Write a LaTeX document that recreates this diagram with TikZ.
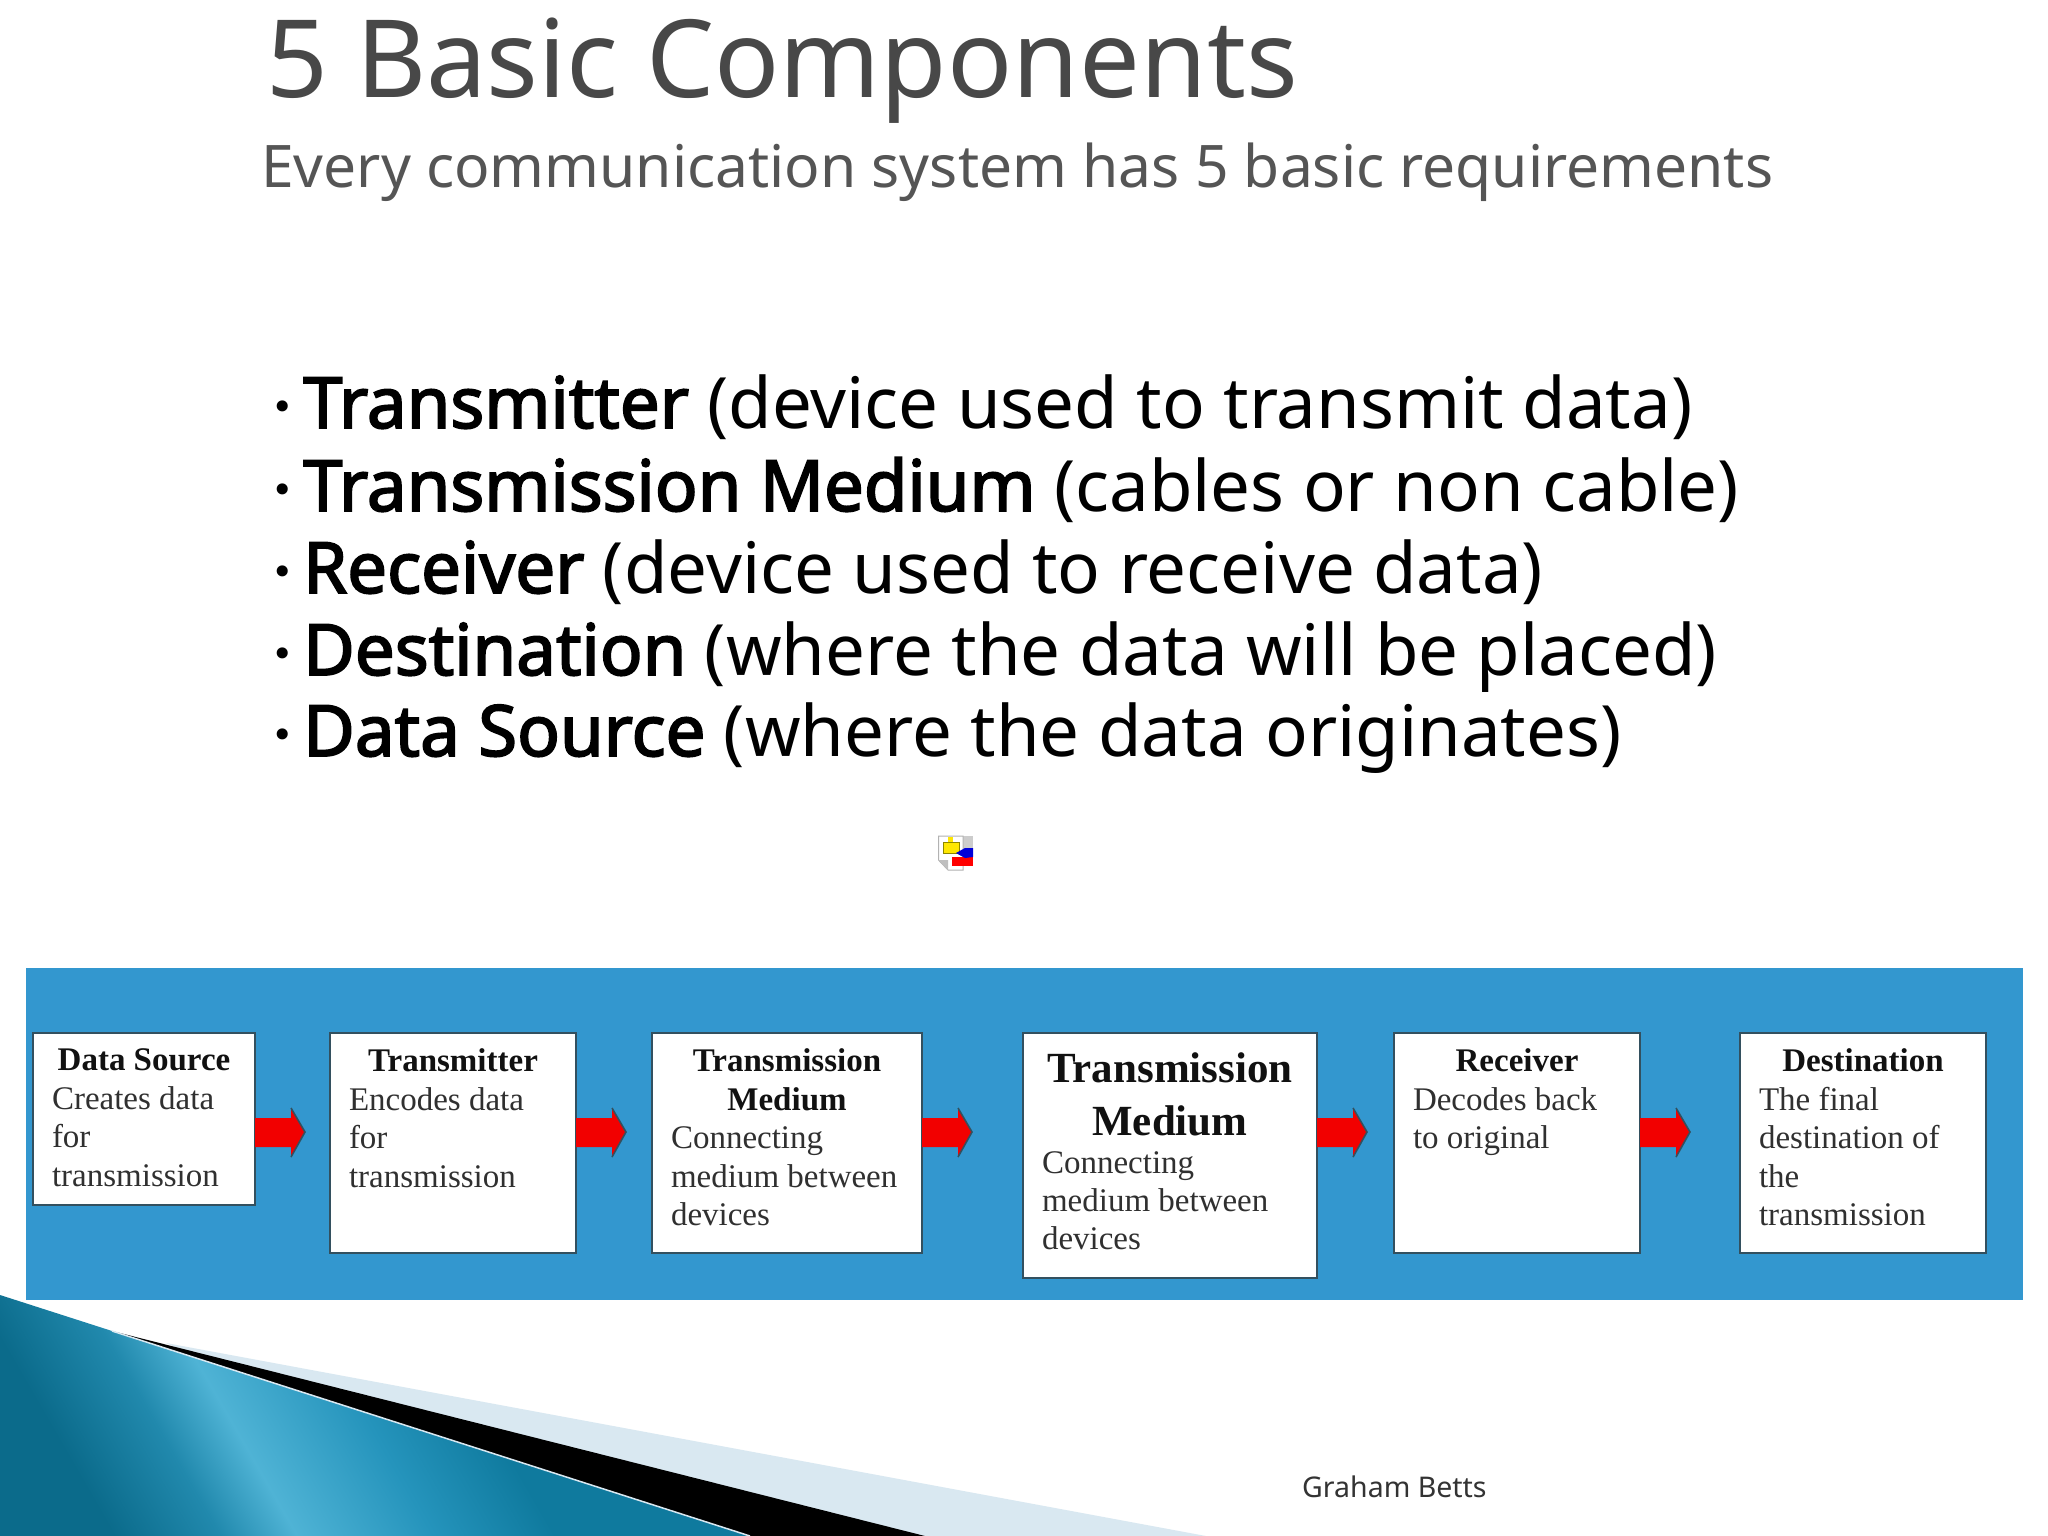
\documentclass[tikz,border=0pt]{standalone}
\usepackage{fontspec}
\setmainfont{Noto Sans}[AutoFakeBold=2.5]
\newfontfamily\boxfont{Liberation Serif}
\newfontfamily\dotfont{DejaVu Sans}
\usetikzlibrary{calc}
\definecolor{bandblue}{HTML}{3397CF}
\definecolor{boxedge}{HTML}{33505F}
\definecolor{titlegray}{HTML}{484848}
\definecolor{subgray}{HTML}{555555}
\definecolor{paleband}{HTML}{D9E8F1}
\definecolor{boxbody}{HTML}{303030}
\definecolor{boxhead}{HTML}{111111}
\definecolor{tealA}{HTML}{0B6B8B}
\definecolor{tealB}{HTML}{2189AD}
\definecolor{tealC}{HTML}{4FB3D5}
\definecolor{tealD}{HTML}{2594BC}
\definecolor{tealE}{HTML}{0F7A9E}
\pgfdeclarehorizontalshading{cornerteal}{100bp}{
  color(0bp)=(tealA);color(46.5bp)=(tealA);color(50bp)=(tealB);color(52.5bp)=(tealC);color(57bp)=(tealD);color(61bp)=(tealE);color(100bp)=(tealE)}
\tikzset{
  x=1pt,y=-1pt,
  stepbox/.style={fill=white,draw=boxedge,line width=2.6pt,anchor=north west,inner sep=0pt,outer sep=0pt},
  bodyline/.style={anchor=base west,inner sep=0pt,font=\fontsize{70.8}{70.8}\selectfont},
}
\newcommand{\bul}{\makebox[32pt][l]{\raisebox{8pt}{\dotfont\fontsize{38}{38}\selectfont •}}}
\newcommand{\boxtext}[3]{\parbox[c][#2pt][t]{#1pt}{\boxfont\fontsize{33}{38.5}\selectfont\color{boxbody}\vspace*{16pt}#3}}
\newcommand{\hd}[1]{\makebox[\linewidth]{\textcolor{boxhead}{\bfseries #1}}\par}
% block arrow growing out of the east side of a named box
\newcommand{\blockarrow}[1]{
  \fill[red!95!black] ($(#1.north east)+(0,85)$) -- ++(36,0) -- ++(0,-10) -- ++(14,24) -- ++(-14,25) -- ++(0,-10) -- ++(-36,0) -- cycle;
  \draw[boxedge,line width=1.6pt] ($(#1.north east)+(36,75)$) -- ++(14,24) -- ++(-14,25);
}
\begin{document}
\begin{tikzpicture}
\useasboundingbox (0,0) rectangle (2048,1536);
\fill[white] (0,0) rectangle (2048,1536);
% corner wedge
\fill[paleband] (166,1343) -- (1206,1536) -- (600,1536) -- cycle;
\fill[black] (112,1331) -- (925,1536) -- (750,1536) -- cycle;
\begin{scope}
  \clip (0,1295) -- (750,1536) -- (0,1536) -- cycle;
  \shade[shading=cornerteal,shading angle=30] (-500,900) rectangle (900,2100);
\end{scope}
\draw[paleband,line width=1.5pt] (112,1331) -- (750,1536);
% title
\node[anchor=base west,inner sep=0pt,text=titlegray,font=\fontsize{108}{108}\selectfont] (title) at (266,98) {5 Basic Components};
\node[anchor=base west,inner sep=0pt,text=subgray,font=\fontsize{58.7}{58.7}\selectfont] (subtitle) at (261,187) {Every communication system has 5 basic requirements};
% bullets
\node[bodyline] (b1) at (271,428) {\bul\textbf{Transmitter} (device used to transmit data)};
\node[bodyline] (b2) at (271,511) {\bul\textbf{Transmission Medium} (cables or non cable)};
\node[bodyline] (b3) at (271,593) {\bul\textbf{Receiver} (device used to receive data)};
\node[bodyline] (b4) at (271,675) {\bul\textbf{Destination} (where the data will be placed)};
\node[bodyline] (b5) at (271,756) {\bul\textbf{Data Source} (where the data originates)};
% broken object icon
\fill[gray!40] (963,836) rectangle (973,849);
\filldraw[fill=white,draw=gray!60,line width=1pt] (938.5,836) -- (963,836) -- (963,870) -- (948,870) -- (938.5,860) -- cycle;
\fill[gray!50] (938.5,860) -- (948,860) -- (948,870) -- cycle;
\filldraw[fill=yellow!90!orange,draw=olive,line width=.8pt] (943,842) rectangle (959,853);
\fill[yellow!90!orange] (948,837) rectangle (953,842);
\fill[red] (952,857) rectangle (973,866);
\fill[blue!85!black] (956,853) -- (965,848) -- (973,848) -- (973,857) -- (965,858) -- cycle;
% band
\fill[bandblue] (25.5,968) rectangle (2023,1300);
% boxes
\node[stepbox,minimum width=222pt,minimum height=172pt] (src) at (33,1033) {\boxtext{184}{172}{\hd{Data Source}Creates data\\for\\transmission}};
\node[stepbox,minimum width=246pt,minimum height=220pt] (tx) at (330,1033) {\boxtext{208}{220}{\hd{Transmitter}Encodes data\\for\\transmission}};
\node[stepbox,minimum width=270pt,minimum height=220pt] (med) at (652,1033) {\boxtext{232}{220}{\hd{Transmission}\hd{Medium}Connecting\\medium between\\devices}};
\node[stepbox,minimum width=294pt,minimum height=245pt] (med2) at (1023,1033) {\parbox[c][245pt][t]{256pt}{\boxfont\vspace*{20pt}\fontsize{43}{53}\selectfont\hd{Transmission}\hd{Medium}\fontsize{33}{38}\selectfont\color{boxbody}Connecting\\medium between\\devices}};
\node[stepbox,minimum width=246pt,minimum height=220pt] (rx) at (1394,1033) {\boxtext{208}{220}{\hd{Receiver}Decodes back\\to original}};
\node[stepbox,minimum width=246pt,minimum height=220pt] (dst) at (1740,1033) {\boxtext{208}{220}{\hd{Destination}The final\\destination of\\the\\transmission}};
% arrows
\blockarrow{src}\blockarrow{tx}\blockarrow{med}\blockarrow{med2}\blockarrow{rx}
% footer
\node[anchor=base west,inner sep=0pt,text=black!80,font=\fontsize{28.5}{28.5}\selectfont] (foot) at (1302,1497) {Graham Betts};
\end{tikzpicture}
\end{document}
